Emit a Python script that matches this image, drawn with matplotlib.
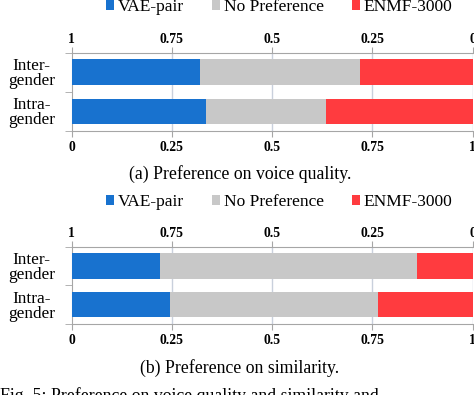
import matplotlib
matplotlib.use("Agg")
import matplotlib.pyplot as plt
from matplotlib.patches import Patch

plt.rcParams["font.family"] = ["Liberation Serif", "DejaVu Serif"]

# Data (fractions of listeners)
categories = ["Inter-\ngender", "Intra-\ngender"]
series_names = ["VAE-pair", "No Preference", "ENMF-3000"]
quality_vae = [0.32, 0.335]
quality_nopref = [0.40, 0.30]
quality_enmf = [0.28, 0.365]
similarity_vae = [0.22, 0.245]
similarity_nopref = [0.64, 0.52]
similarity_enmf = [0.14, 0.235]
bottom_ticks = [0, 0.25, 0.5, 0.75, 1]
bottom_labels = ["0", "0.25", "0.5", "0.75", "1"]
top_labels = ["1", "0.75", "0.5", "0.25", "0"]

colors = ["#1872CF", "#C8C8C8", "#FF3B3F"]
spine_col = "#A6A6A6"
grid_col = "#C9D0DC"

W, H = 474, 395
fig = plt.figure(figsize=(W / 100, H / 100), dpi=100)


def px_axes(left, top, right, bottom):
    return fig.add_axes([left / W, 1 - bottom / H, (right - left) / W, (bottom - top) / H])


def draw_panel(ax, vae, nopref, enmf):
    y = list(range(len(categories)))
    left2 = [a for a in vae]
    left3 = [a + b for a, b in zip(vae, nopref)]
    for vals, lefts, c in zip([vae, nopref, enmf], [[0] * len(vae), left2, left3], colors):
        ax.barh(y, vals, left=lefts, height=0.66, color=c, zorder=3)
    ax.set_xlim(0, 1)
    ax.set_ylim(1.5, -0.5)

    ax.set_xticks(bottom_ticks)
    ax.set_xticklabels(bottom_labels, fontsize=9.8, fontweight="bold")
    ax.tick_params(axis="x", length=4, color=spine_col, pad=3)
    for xv in bottom_ticks[1:]:
        ax.axvline(xv, color=grid_col, linewidth=1, zorder=1)

    ax.set_yticks(y)
    ax.set_yticklabels(categories, fontsize=12.4, linespacing=0.92)
    for lab in ax.get_yticklabels():
        lab.set_multialignment("center")
    ax.set_yticks([-0.5, 0.5, 1.5], minor=True)
    ax.tick_params(axis="y", which="major", length=0, pad=12)
    ax.tick_params(axis="y", which="minor", length=5, color=spine_col)

    for s in ["left", "top", "bottom"]:
        ax.spines[s].set_color(spine_col)
    ax.spines["right"].set_visible(False)

    top = ax.twiny()
    top.set_xlim(1, 0)
    top.set_xticks(bottom_ticks[::-1])
    top.set_xticklabels(top_labels, fontsize=9.8, fontweight="bold")
    top.tick_params(axis="x", length=4, color=spine_col, pad=1)
    for s in top.spines.values():
        s.set_visible(False)


ax1 = px_axes(71.7, 52.7, 472.7, 131)
draw_panel(ax1, quality_vae, quality_nopref, quality_enmf)
ax2 = px_axes(71.7, 246.7, 472.7, 324)
draw_panel(ax2, similarity_vae, similarity_nopref, similarity_enmf)

handles = [Patch(facecolor=c, edgecolor="none") for c in colors]
for yc in [7, 202]:
    fig.legend(handles, series_names, loc="center", bbox_to_anchor=(279 / W, 1 - yc / H),
               ncol=3, frameon=False, fontsize=12.5, handlelength=0.5, handleheight=0.5,
               handletextpad=0.2, columnspacing=1.6, borderaxespad=0, borderpad=0)

fig.text(240 / W, 1 - 174 / H, "(a) Preference on voice quality.", ha="center", va="center", fontsize=12.8)
fig.text(240 / W, 1 - 368 / H, "(b) Preference on similarity.", ha="center", va="center", fontsize=12.8)
fig.text(0, 1 - 387 / H, "Fig. 5: Preference on voice quality and similarity and",
         ha="left", va="top", fontsize=12.8)

fig.savefig("out.png", dpi=100)
